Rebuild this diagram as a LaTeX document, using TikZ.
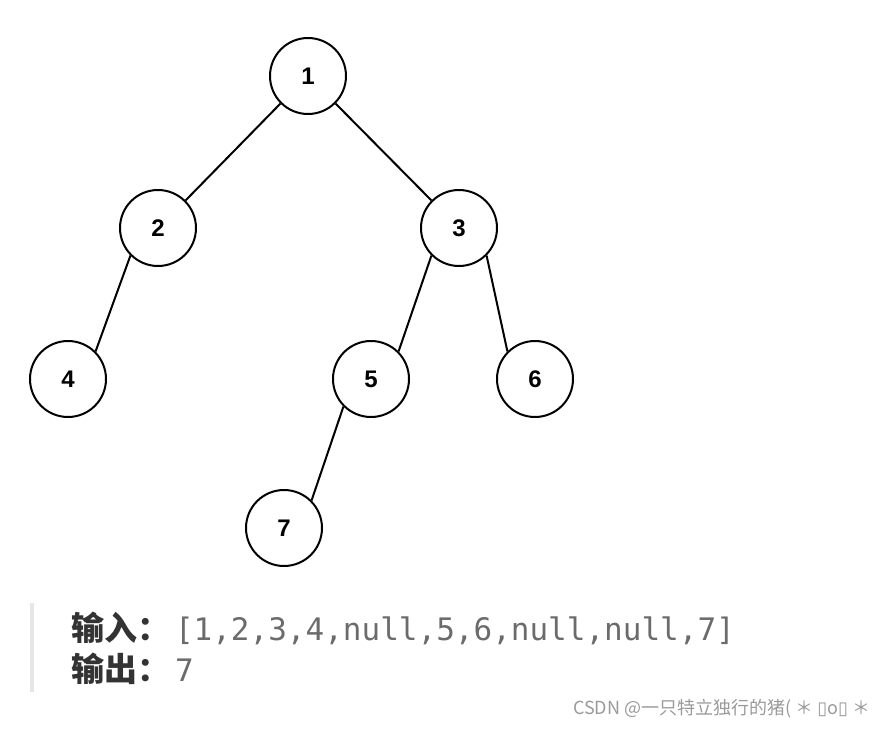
\documentclass[tikz,border=0pt]{standalone}
\usepackage{fontspec}
\setmainfont{Liberation Sans}
\newfontfamily\cjk{Noto Sans CJK SC}
\newfontfamily\codefont{DejaVu Sans Mono}
\newfontfamily\symfont{DejaVu Sans}
\usepackage{tikz}
\usetikzlibrary{positioning}

\definecolor{quotebar}{HTML}{E6E6E6}
\definecolor{codegray}{HTML}{6B6B6B}
\definecolor{labeltext}{HTML}{333333}
\definecolor{markgray}{HTML}{9A9A9A}

\begin{document}
\begin{tikzpicture}[x=1pt, y=-1pt, line width=2pt,
    vtx/.style={draw, circle, minimum size=76pt, inner sep=0pt, font=\bfseries\fontsize{24}{24}\selectfont},
    cnlabel/.style={anchor=base west, inner sep=0pt, text=labeltext, font=\cjk\bfseries\fontsize{33}{33}\selectfont},
    codetext/.style={anchor=base west, inner sep=0pt, text=codegray, font=\codefont\fontsize{31}{31}\selectfont}]
  \useasboundingbox (0,0) rectangle (888,728);

  % tree nodes
  \foreach \n/\x/\y in {1/308/76, 2/158/228, 3/459/228, 4/68/379, 5/371/379, 6/535/379, 7/284/528} {
    \node[vtx] (n\n) at (\x,\y) {\n};
  }

  % edges, from lower border of parent to upper border of child
  \foreach \a/\b/\s/\e in {1/2/-135/45, 1/3/-45/135, 2/4/-135/45, 3/5/-135/45, 3/6/-45/135, 5/7/-135/45} {
    \draw (n\a.\s) -- (n\b.\e);
  }

  % example block
  \fill[quotebar] (30,603) rectangle (34,692);
  \node[cnlabel] (in_lbl) at (70,640) {输入：};
  \node[codetext] (in_val) at (174,640) {[1,2,3,4,null,5,6,null,null,7]};
  \node[cnlabel] (out_lbl) at (70,681) {输出：};
  \node[codetext] (out_val) at (174,681) {7};

  % watermark
  \node[anchor=base west, inner sep=0pt, text=markgray, font=\cjk\fontsize{18}{18}\selectfont] (mark) at (572,714)
    {CSDN @一只特立独行的猪( ＊ {\symfont ▯}o{\symfont ▯} ＊};
\end{tikzpicture}
\end{document}
